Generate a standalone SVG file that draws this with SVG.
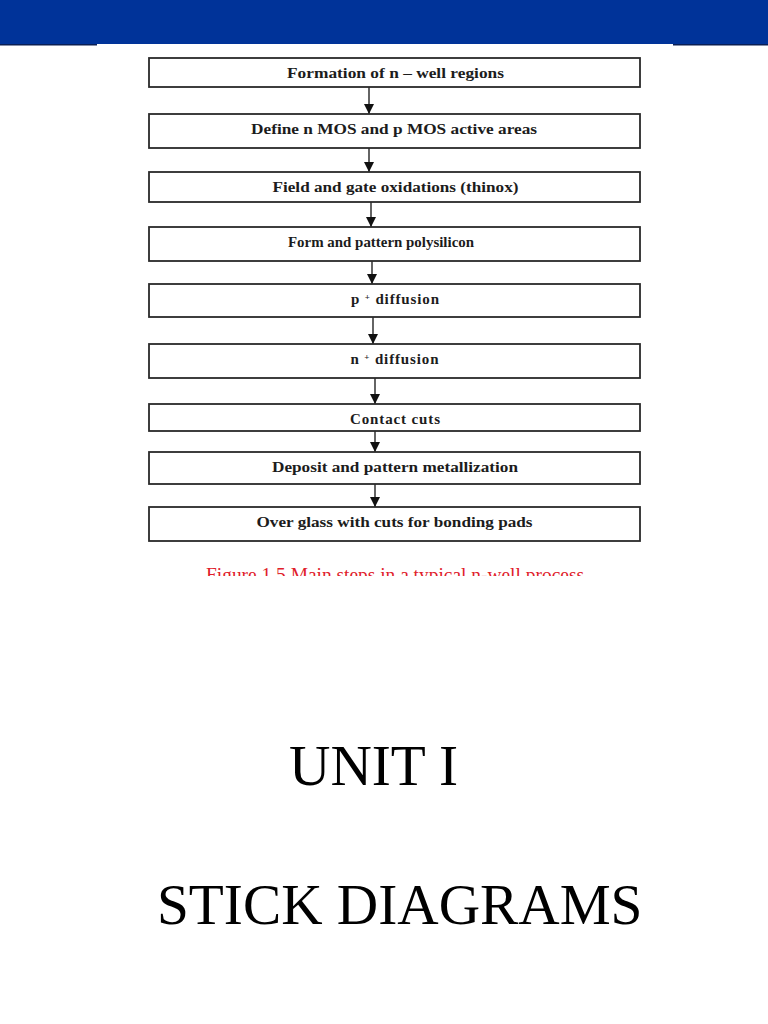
<svg xmlns="http://www.w3.org/2000/svg" width="768" height="1024" viewBox="0 0 768 1024">
<style>
.box{fill:#fff;stroke:#2a2a2a;stroke-width:1.8}
.lbl{font-family:"Liberation Serif",serif;font-weight:bold;font-size:15px;fill:#1c1c1c;text-anchor:middle}
.con{stroke:#111;stroke-width:1.3;fill:none;marker-end:url(#arrow)}
.big{font-family:"Liberation Serif",serif;font-size:57.300px;fill:#000}
</style>
<defs>
<marker id="arrow" markerUnits="userSpaceOnUse" markerWidth="12" markerHeight="12" refX="10" refY="6" orient="auto"><path d="M0 1L10 6L0 11Z" fill="#111"/></marker>
<clipPath id="capClip"><rect x="140" y="560" width="510" height="16"/></clipPath>
</defs>
<rect width="768" height="1024" fill="#fff"/>
<g id="header">
<rect x="0" y="0" width="768" height="45" fill="#003399"/>
<rect x="0" y="44" width="97" height="1.500" fill="#0a1f55"/>
<rect x="673" y="44" width="95" height="1.500" fill="#0a1f55"/>
<rect x="97" y="44" width="576" height="2" fill="#fff"/>
</g>
<g id="connectors">
<path class="con" d="M369 87V114"/>
<path class="con" d="M369 148V172"/>
<path class="con" d="M371 202V227"/>
<path class="con" d="M372 261V284"/>
<path class="con" d="M373 317V344"/>
<path class="con" d="M375 378V404"/>
<path class="con" d="M375 431V452"/>
<path class="con" d="M375 484V507"/>
</g>
<g id="n1"><rect class="box" x="149" y="58" width="491" height="29"/><text class="lbl" x="395.500" y="78" textLength="217" lengthAdjust="spacingAndGlyphs">Formation of n – well regions</text></g>
<g id="n2"><rect class="box" x="149" y="114" width="491" height="34"/><text class="lbl" x="394" y="134" textLength="286" lengthAdjust="spacingAndGlyphs">Define n MOS and p MOS active areas</text></g>
<g id="n3"><rect class="box" x="149" y="172" width="491" height="30"/><text class="lbl" x="395.500" y="192" textLength="246" lengthAdjust="spacingAndGlyphs">Field and gate oxidations (thinox)</text></g>
<g id="n4"><rect class="box" x="149" y="227" width="491" height="34"/><text class="lbl" x="381" y="247" textLength="186" lengthAdjust="spacingAndGlyphs">Form and pattern polysilicon</text></g>
<g id="n5"><rect class="box" x="149" y="284" width="491" height="33"/><text class="lbl" x="395" y="304" textLength="88" lengthAdjust="spacing">p <tspan font-size="9" dy="-4">+</tspan><tspan dy="4"> diffusion</tspan></text></g>
<g id="n6"><rect class="box" x="149" y="344" width="491" height="34"/><text class="lbl" x="394.500" y="364" textLength="88" lengthAdjust="spacing">n <tspan font-size="9" dy="-4">+</tspan><tspan dy="4"> diffusion</tspan></text></g>
<g id="n7"><rect class="box" x="149" y="404" width="491" height="27"/><text class="lbl" x="395" y="424" textLength="90" lengthAdjust="spacing">Contact cuts</text></g>
<g id="n8"><rect class="box" x="149" y="452" width="491" height="32"/><text class="lbl" x="395" y="472" textLength="246" lengthAdjust="spacingAndGlyphs">Deposit and pattern metallization</text></g>
<g id="n9"><rect class="box" x="149" y="507" width="491" height="34"/><text class="lbl" x="394.500" y="527" textLength="276" lengthAdjust="spacingAndGlyphs">Over glass with cuts for bonding pads</text></g>
<g clip-path="url(#capClip)"><text x="395" y="581" font-family="Liberation Serif, serif" font-size="18.500" fill="#e0202a" text-anchor="middle" textLength="378" lengthAdjust="spacingAndGlyphs">Figure 1.5 Main steps in a typical n-well process</text></g>
<text class="big" x="289" y="785">UNIT I</text>
<text class="big" x="157" y="924">STICK DIAGRAMS</text>
</svg>
